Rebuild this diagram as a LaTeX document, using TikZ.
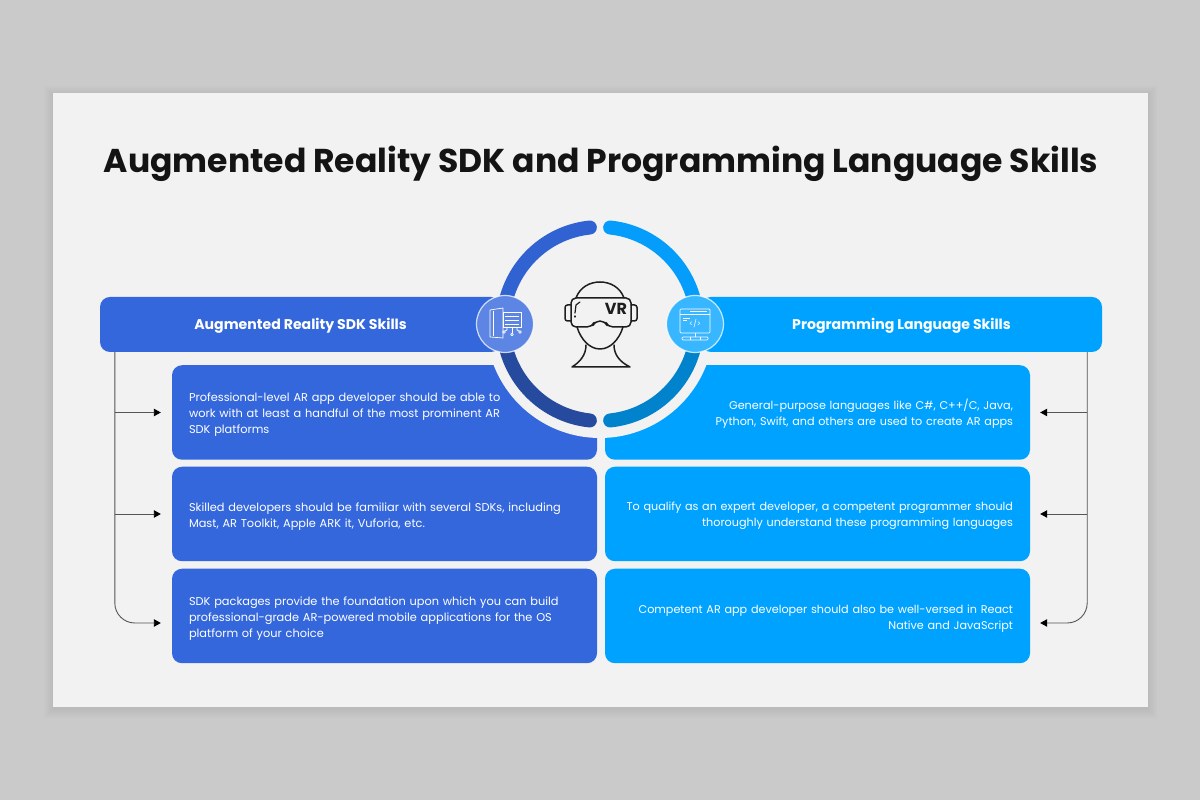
\documentclass[tikz,border=0pt]{standalone}
\usepackage{fontspec}
\setmainfont{Poppins}
\usetikzlibrary{arrows,arrows.meta,decorations.markings}

\definecolor{pagegray}{HTML}{CACACA}
\definecolor{slidegray}{HTML}{F2F2F2}
\definecolor{sdkblue}{HTML}{3467DC}
\definecolor{langblue}{HTML}{00A2FF}
\definecolor{iconink}{HTML}{1E1E1E}
\definecolor{linkgray}{HTML}{555555}

\tikzset{
    bar/.style={rounded corners=10pt, text=white, minimum width=401pt, minimum height=55pt, inner sep=0pt, text height=10.4pt, text depth=0pt, font=\fontsize{14.1}{16}\selectfont\bfseries},
    sdkcard/.style={fill=sdkblue, rounded corners=10pt, text=white, minimum width=425pt, minimum height=94.5pt, text width=391pt, inner sep=0pt, align=left, execute at begin node={\rule{0pt}{13pt}}, font=\fontsize{11.35}{16}\selectfont},
    langcard/.style={fill=langblue, rounded corners=10pt, text=white, minimum width=425pt, minimum height=94.5pt, text width=391pt, inner sep=0pt, align=right, execute at begin node={\rule{0pt}{13pt}}, font=\fontsize{11.2}{16}\selectfont},
    ringarc/.style={line width=14pt, line cap=round},
    badge/.style={circle, minimum size=57pt, inner sep=0pt, draw=white, draw opacity=0.75, line width=1.2pt},
    link/.style={draw=linkgray, line width=0.9pt, -{Triangle[black,length=7pt,width=7.5pt]}},
    ink/.style={draw=iconink, line width=1.5pt, line join=round, line cap=round},
    whiteink/.style={draw=white, line width=0.7pt, line join=round}
}

\begin{document}
\begin{tikzpicture}[x=1pt,y=1pt]

\useasboundingbox (0,0) rectangle (1200,800);
\fill[pagegray] (0,0) rectangle (1200,800);

\foreach \s in {1,3,5,7,9}
    \fill[black, opacity=0.012] (53-\s,93-\s-2) rectangle (1148+\s,707+\s-2);
\fill[slidegray] (53,93) rectangle (1148,707);

\node[font=\fontsize{33}{38}\selectfont\bfseries, text=black!92] (title) at (601,636) {Augmented Reality SDK and Programming Language Skills};

\node[sdkcard] (sdk1) at (384.5,387.5) {Professional-level AR app developer should be able to\\work with at least a handful of the most prominent AR\\SDK platforms};
\node[sdkcard] (sdk2) at (384.5,286) {Skilled developers should be familiar with several SDKs, including\\Mast, AR Toolkit, Apple ARK it, Vuforia, etc.};
\node[sdkcard] (sdk3) at (384.5,184) {SDK packages provide the foundation upon which you can build\\professional-grade AR-powered mobile applications for the OS\\platform of your choice};

\node[langcard] (lang1) at (817.5,387.5) {General-purpose languages like C\#, C++/C, Java,\\Python, Swift, and others are used to create AR apps};
\node[langcard] (lang2) at (817.5,286) {To qualify as an expert developer, a competent programmer should\\thoroughly understand these programming languages};
\node[langcard] (lang3) at (817.5,184) {Competent AR app developer should also be well-versed in React\\Native and JavaScript};

\fill[slidegray] (600,476) circle (114);

\draw[ringarc, color=sdkblue!95!black] (600,476) ++(96:97) arc (96:180:97);
\draw[ringarc, color=sdkblue!72!black] (600,476) ++(264:97) arc (264:180:97);
\draw[ringarc, color=langblue!92!sdkblue] (600,476) ++(84:97) arc (84:0:97);
\draw[ringarc, color=langblue!80!black] (600,476) ++(276:97) arc (276:360:97);

\node[bar, fill=sdkblue] (sdkbar) at (300.5,475.5) {Augmented Reality SDK Skills};
\node[bar, fill=langblue] (langbar) at (901.5,475.5) {Programming Language Skills};

\node[badge, fill=sdkblue!80!white] (sdkbadge) at (505,476) {};
\node[badge, fill=langblue!78!white] (langbadge) at (695,476) {};

\coordinate (sdktrunk) at ([xshift=15pt]sdkbar.south west);
\coordinate (langtrunk) at ([xshift=-15pt]langbar.south east);
\coordinate (sdktip1) at ([xshift=-11pt]sdk1.west);
\coordinate (sdktip2) at ([xshift=-11pt]sdk2.west);
\coordinate (sdktip3) at ([xshift=-11pt,yshift=-7pt]sdk3.west);
\coordinate (langtip1) at ([xshift=10pt]lang1.east);
\coordinate (langtip2) at ([xshift=10pt]lang2.east);
\coordinate (langtip3) at ([xshift=10pt,yshift=-7pt]lang3.east);

\draw[link] (sdktrunk |- sdktip1) -- (sdktip1);
\draw[link] (sdktrunk |- sdktip2) -- (sdktip2);
\draw[link, rounded corners=20pt] (sdktrunk) |- (sdktip3);
\draw[link] (langtrunk |- langtip1) -- (langtip1);
\draw[link] (langtrunk |- langtip2) -- (langtip2);
\draw[link, rounded corners=20pt] (langtrunk) |- (langtip3);

\draw[ink, rounded corners=5pt] (571,502) -- (631,502) -- (631,473) -- (608,473) -- (605,479) -- (595,479) -- (592,473) -- (571,473) -- cycle;
\draw[ink, rounded corners=2.5pt] (571,495) -- (565,495) -- (565,479) -- (571,479);
\draw[ink, rounded corners=2.5pt] (631,495) -- (637,495) -- (637,479) -- (631,479);
\draw[ink] (576,502) .. controls (580,513) and (590,518) .. (600,518) .. controls (610,518) and (620,513) .. (624,502);
\draw[ink] (577,473) .. controls (581,460) and (590,451) .. (600,451) .. controls (610,451) and (619,460) .. (623,473);
\draw[ink] (586,455) .. controls (586,445) and (580,438) .. (572,433) -- (630,433) .. controls (620,438) and (614,445) .. (614,455);
\draw[ink, line width=1.2pt] (575,487) -- (576,495) -- (580,498);
\draw[ink, line width=1.2pt] (575,483) -- (575,484);
\node[font=\fontsize{16}{18}\selectfont\bfseries, text=iconink, inner sep=0pt] (vr) at (616,491) {VR};

\draw[whiteink] (490,490) -- (503,492) -- (503,462) -- (490,463) -- cycle;
\draw[whiteink] (493,489) -- (493,464);
\draw[whiteink] (503,488) rectangle (521,473);
\foreach \y in {484,480,476}
    \draw[whiteink] (505,\y) -- (519,\y);
\draw[whiteink] (507,473) -- (507,470) -- (505,469);
\draw[whiteink] (512,473) -- (512,467);
\draw[whiteink] (517,473) -- (517,470) -- (519,469);
\draw[whiteink] (504,468) circle (1.3) (512,465.5) circle (1.3) (520,468) circle (1.3);

\draw[whiteink, rounded corners=1pt] (680,491) rectangle (710,467);
\draw[whiteink] (680,486) -- (710,486);
\draw[whiteink] (690,488.5) -- (707,488.5);
\draw[whiteink] (683,482) -- (690,482) (683,479.5) -- (687,479.5);
\node[font=\fontsize{7.5}{8}\selectfont, text=white, inner sep=0pt] (codetag) at (695,476.5) {</>};
\draw[whiteink] (695,467) -- (695,463);
\draw[whiteink, rounded corners=1pt] (682,463) rectangle (708,460);
\draw[whiteink] (690,463) -- (690,460) (700,463) -- (700,460);

\end{tikzpicture}
\end{document}
